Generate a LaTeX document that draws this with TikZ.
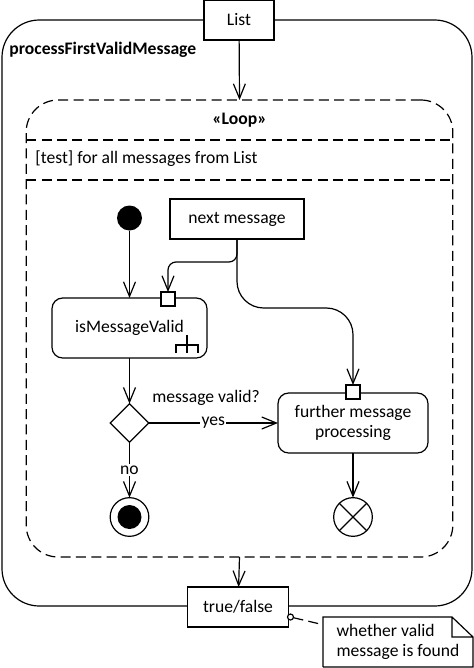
\documentclass[tikz,border=0pt]{standalone}
\usepackage{fontspec}
\setmainfont{Carlito}
\usetikzlibrary{positioning,calc,arrows.meta,shapes.geometric}
\begin{document}
\begin{tikzpicture}[x=0.75pt,y=-0.75pt,line width=0.9pt,
				every node/.style={font=\fontsize{13.2}{15}\selectfont,outer sep=0pt},
				block/.style={draw,rectangle,fill=white,minimum width=#1,minimum height=30pt},
				action/.style={draw,rectangle,rounded corners=8pt,align=center,minimum width=#1,minimum height=45pt},
				pin/.style={draw,rectangle,fill=white,inner sep=0pt,minimum size=10.5pt},
				flow/.style={-{Straight Barb[length=11pt,width=9pt]}},
				region/.style={dash pattern=on 7.5pt off 4pt},
				tag/.style={fill=white,inner sep=1pt}]
				\useasboundingbox (0,0) rectangle (474,668);
				\node (FRAME)   [draw,rounded corners=28pt,minimum width=352.5pt,minimum height=439.5pt] at (237,313) {};
				\node (LOOP)    [draw,region,rounded corners=24pt,minimum width=320pt,minimum height=342.75pt] at (239.5,328.5) {};
				\node (LIST)    [block=52.5pt] at (239,20) {List};
				\node (RESULT)  [block=75.75pt] at (238,607) {true/false};
				\node (TITLE)   [anchor=west,font=\fontsize{13.2}{15}\selectfont\bfseries] at (5,50) {processFirstValidMessage};
				\node (STEREO)  [font=\fontsize{13.2}{15}\selectfont\bfseries] at (239.5,120) {«Loop»};
				\node (TEST)    [anchor=west] at (31,159) {[test] for all messages from List};
				\node (INIT)    [circle,fill=black,minimum size=18.75pt,inner sep=0pt] at (129.5,218) {};
				\node (NEXT)    [block=100.5pt] at (237,219) {next message};
				\node (VALID)   [action=116.25pt] at (129.5,328) {isMessageValid};
				\node (PIN1)    [pin] at (168,299) {};
				\node (DEC)     [diamond,draw,minimum size=29pt,inner sep=0pt] at (129.5,423) {};
				\node (QUESTION) at (206,398) {message valid?};
				\node (FURTHER) [action=112.5pt] at (353,423) {further message\\processing};
				\node (PIN2)    [pin] at (353,392) {};
				\node (FINAL)   [circle,draw,minimum size=29pt,inner sep=0pt] at (129.5,517) {};
				\node (FLOWEND) [circle,draw,minimum size=29pt,inner sep=0pt] at (353,517) {};
				\node (NOTE)    [anchor=north west,align=left,inner xsep=7.5pt,minimum width=112.5pt,minimum height=37.5pt] at (323,617) {whether valid\\message is found};
				\node (KNOB)    [circle,draw,fill=white,inner sep=0pt,minimum size=4.5pt] at ($(RESULT.east)+(2,10)$) {};
				\coordinate (BEND) at (0,308);

				\draw[flow] (LIST) -- (LOOP.north);
				\draw[flow] (LOOP.south) -- (RESULT);
				\draw[flow] (INIT) -- (VALID);
				\draw[flow,rounded corners=6pt] (NEXT.south) -- ++(0,23) -| (PIN1.north);
				\draw[flow,rounded corners=20pt] (NEXT.south) -- (NEXT.south |- BEND) -- (PIN2.north |- BEND) -- (PIN2.north);
				\draw[flow] (VALID) -- (DEC);
				\draw[flow] (DEC) -- node[tag] {yes} (FURTHER);
				\draw[flow] (DEC) -- node[tag] {no} (FINAL);
				\draw[flow] (FURTHER) -- (FLOWEND);
				\fill (FINAL) circle (9pt);
				\draw (FLOWEND.north west) -- (FLOWEND.south east) (FLOWEND.north east) -- (FLOWEND.south west);
				\draw ($(VALID.south east)+(-20,-23)$) -- ++(0,18) ($(VALID.south east)+(-31,-5)$) |- ++(22,-8) -- ++(0,8);
				\draw[region] (LOOP.west |- 0,140) -- (LOOP.east |- 0,140) (LOOP.west |- 0,180) -- (LOOP.east |- 0,180);
				\draw (NOTE.south west) |- ($(NOTE.north east)+(-21,0)$) -- ($(NOTE.north east)+(0,20)$) |- (NOTE.south west)
					($(NOTE.north east)+(-21,0)$) |- ($(NOTE.north east)+(0,20)$);
				\draw[region] (KNOB) -- (NOTE.167);
			\end{tikzpicture}
\end{document}
